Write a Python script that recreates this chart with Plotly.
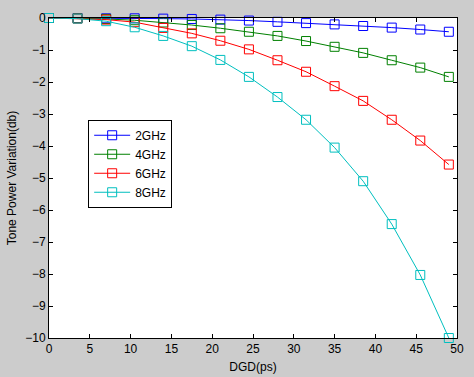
import plotly.graph_objects as go

dgd = [0, 3.5, 7, 10.5, 14, 17.5, 21, 24.5, 28, 31.5, 35, 38.5, 42, 45.5, 49]
ghz2 = [0, 0, -0.01, -0.01, -0.02, -0.03, -0.05, -0.08, -0.12, -0.16, -0.2, -0.25, -0.3, -0.36, -0.43]
ghz4 = [0, -0.01, -0.03, -0.07, -0.14, -0.22, -0.32, -0.43, -0.56, -0.72, -0.9, -1.09, -1.32, -1.55, -1.84]
ghz6 = [0, -0.02, -0.05, -0.13, -0.31, -0.48, -0.71, -0.98, -1.32, -1.68, -2.13, -2.59, -3.18, -3.83, -4.58]
ghz8 = [0, -0.02, -0.1, -0.29, -0.56, -0.88, -1.31, -1.84, -2.47, -3.18, -4.05, -5.1, -6.44, -8.03, -10.0]

series = [("2GHz", ghz2, "#0000ff"), ("4GHz", ghz4, "#008000"),
          ("6GHz", ghz6, "#ff0000"), ("8GHz", ghz8, "#00bfbf")]

fig = go.Figure()
for name, vals, col in series:
    fig.add_trace(go.Scatter(
        x=dgd, y=vals, name=name, mode="lines+markers",
        line=dict(color=col, width=1),
        marker=dict(symbol="square-open", size=9, color=col, line=dict(width=1)),
        cliponaxis=False))

axis_common = dict(showline=True, linecolor="black", linewidth=1, mirror="ticks",
                   ticks="inside", ticklen=4, tickcolor="black", showgrid=False,
                   zeroline=False, automargin=False,
                   tickfont=dict(family="Liberation Sans, Arial", size=12, color="black"))

fig.update_layout(
    width=474, height=377,
    margin=dict(l=49, r=17, t=18, b=39),
    paper_bgcolor="#cccccc", plot_bgcolor="white",
    font=dict(family="Liberation Sans, Arial", size=12, color="black"),
    xaxis=dict(range=[0, 50], tick0=0, dtick=5,
               title=dict(text="DGD(ps)", standoff=7, font=dict(size=12)), **axis_common),
    yaxis=dict(range=[-10, 0], tick0=0, dtick=1,
               title=dict(text="Tone Power Variation(db)", standoff=6, font=dict(size=12)), **axis_common),
    legend=dict(x=0.096, y=0.682, xanchor="left", yanchor="top",
                bgcolor="white", bordercolor="black", borderwidth=1,
                font=dict(size=12), tracegroupgap=0, itemwidth=36),
    showlegend=True,
)

fig.write_html("out.html", config={"displayModeBar": False},
               post_script="document.body.style.margin='0';document.body.style.overflow='hidden';")
